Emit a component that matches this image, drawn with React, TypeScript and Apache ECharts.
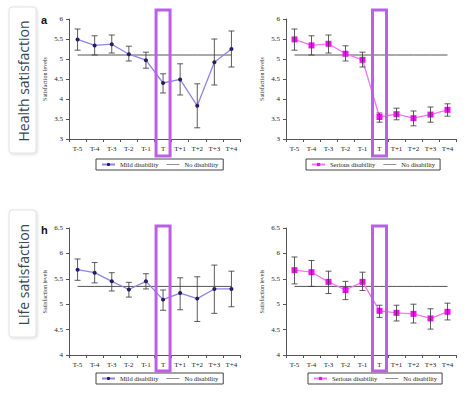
import React, { useEffect, useRef } from "react";
import * as echarts from "echarts";

const categories = ["T-5", "T-4", "T-3", "T-2", "T-1", "T", "T+1", "T+2", "T+3", "T+4"];

const healthMild = [5.49, 5.34, 5.37, 5.12, 4.97, 4.4, 4.49, 3.83, 4.92, 5.25];
const healthMildLow = [5.22, 5.1, 5.15, 4.95, 4.77, 4.15, 4.1, 3.28, 4.35, 4.8];
const healthMildHigh = [5.75, 5.58, 5.6, 5.32, 5.17, 4.63, 4.88, 4.38, 5.5, 5.7];

const healthSerious = [5.49, 5.34, 5.38, 5.13, 4.98, 3.55, 3.62, 3.52, 3.61, 3.73];
const healthSeriousLow = [5.22, 5.1, 5.15, 4.95, 4.8, 3.42, 3.48, 3.33, 3.42, 3.57];
const healthSeriousHigh = [5.75, 5.58, 5.6, 5.33, 5.17, 3.65, 3.77, 3.7, 3.8, 3.88];

const lifeMild = [5.68, 5.62, 5.45, 5.29, 5.45, 5.09, 5.22, 5.11, 5.3, 5.3];
const lifeMildLow = [5.47, 5.42, 5.26, 5.14, 5.3, 4.88, 4.89, 4.66, 4.82, 4.95];
const lifeMildHigh = [5.89, 5.82, 5.62, 5.43, 5.6, 5.28, 5.52, 5.54, 5.77, 5.65];

const lifeSerious = [5.67, 5.63, 5.44, 5.28, 5.44, 4.87, 4.83, 4.81, 4.72, 4.85];
const lifeSeriousLow = [5.4, 5.35, 5.21, 5.09, 5.27, 4.74, 4.67, 4.63, 4.51, 4.69];
const lifeSeriousHigh = [5.93, 5.86, 5.65, 5.45, 5.63, 4.98, 4.98, 5.0, 4.91, 5.02];

const healthNoDisability = 5.1;
const lifeNoDisability = 5.35;

const SERIF = "Liberation Serif";

const panels = [
  { mean: healthMild, low: healthMildLow, high: healthMildHigh, ref: healthNoDisability, name: "Mild disability", kind: "mild", min: 3, max: 6, grid: { left: 69, top: 19, width: 171, height: 120 }, legend: { left: 96, top: 159 } },
  { mean: healthSerious, low: healthSeriousLow, high: healthSeriousHigh, ref: healthNoDisability, name: "Serious disability", kind: "serious", min: 3, max: 6, grid: { left: 286, top: 19, width: 170, height: 120 }, legend: { left: 306, top: 159 } },
  { mean: lifeMild, low: lifeMildLow, high: lifeMildHigh, ref: lifeNoDisability, name: "Mild disability", kind: "mild", min: 4, max: 6.5, grid: { left: 69, top: 228, width: 171, height: 127 }, legend: { left: 96, top: 373 } },
  { mean: lifeSerious, low: lifeSeriousLow, high: lifeSeriousHigh, ref: lifeNoDisability, name: "Serious disability", kind: "serious", min: 4, max: 6.5, grid: { left: 286, top: 228, width: 170, height: 127 }, legend: { left: 308, top: 373 } },
];

export default function App() {
  const ref = useRef<HTMLDivElement>(null);
  useEffect(() => {
    if (!ref.current) return;
    const chart = echarts.init(ref.current, null, { renderer: "svg" });

    const grids: any[] = [];
    const xAxes: any[] = [];
    const yAxes: any[] = [];
    const series: any[] = [];
    const legends: any[] = [];

    panels.forEach((p, i) => {
      grids.push({ ...p.grid });
      xAxes.push({
        type: "category",
        gridIndex: i,
        data: categories,
        axisLine: { lineStyle: { color: "#555", width: 1 } },
        axisTick: { show: true, length: 3, lineStyle: { color: "#555" } },
        axisLabel: { fontFamily: SERIF, fontSize: 7, color: "#222", margin: 6, interval: 0 },
      });
      yAxes.push({
        type: "value",
        gridIndex: i,
        min: p.min,
        max: p.max,
        interval: 0.5,
        splitLine: { show: false },
        axisLine: { show: true, lineStyle: { color: "#555", width: 1 } },
        axisTick: { show: true, length: 3, lineStyle: { color: "#555" } },
        axisLabel: { fontFamily: SERIF, fontSize: 7, color: "#222", margin: 6 },
        name: "Satisfaction levels",
        nameLocation: "middle",
        nameRotate: 90,
        nameGap: 21,
        nameTextStyle: { fontFamily: SERIF, fontSize: 6, color: "#333" },
      });
      const mild = p.kind === "mild";
      series.push({
        type: "line",
        name: p.name,
        xAxisIndex: i,
        yAxisIndex: i,
        data: p.mean,
        symbol: mild ? "circle" : "rect",
        symbolSize: mild ? 4 : 6,
        lineStyle: { color: mild ? "#8d84e6" : "#f576f5", width: 1.3 },
        itemStyle: { color: mild ? "#1b1670" : "#ee11ee" },
        z: 3,
      });
      series.push({
        type: "line",
        name: "No disability",
        xAxisIndex: i,
        yAxisIndex: i,
        data: categories.map(() => p.ref),
        symbol: "none",
        lineStyle: { color: "#555", width: 1 },
        itemStyle: { color: "#555" },
        z: 2,
      });
      series.push({
        type: "custom",
        name: "err" + i,
        xAxisIndex: i,
        yAxisIndex: i,
        data: p.low.map((l, k) => [k, l, p.high[k]]),
        encode: { x: 0, y: [1, 2] },
        z: 4,
        renderItem: (params: any, api: any) => {
          const x = api.value(0);
          const lo = api.coord([x, api.value(1)]);
          const hi = api.coord([x, api.value(2)]);
          const w = 3;
          const style = { stroke: "#333", lineWidth: 0.8 };
          return {
            type: "group",
            children: [
              { type: "line", shape: { x1: lo[0], y1: lo[1], x2: hi[0], y2: hi[1] }, style },
              { type: "line", shape: { x1: lo[0] - w, y1: lo[1], x2: lo[0] + w, y2: lo[1] }, style },
              { type: "line", shape: { x1: hi[0] - w, y1: hi[1], x2: hi[0] + w, y2: hi[1] }, style },
            ],
          };
        },
      });
      legends.push({
        left: p.legend.left,
        top: p.legend.top,
        width: 170,
        data: [p.name, { name: "No disability", icon: "path://M0,0 L40,0 L40,2 L0,2 Z" }],
        orient: "horizontal",
        borderColor: "#444",
        borderWidth: 1,
        padding: [2, 5],
        itemGap: 8,
        itemWidth: 13,
        itemHeight: 4,
        selectedMode: false,
        textStyle: { fontFamily: SERIF, fontSize: 6.5, color: "#222" },
      });
    });

    chart.setOption({
      animation: false,
      backgroundColor: "#ffffff",
      grid: grids,
      xAxis: xAxes,
      yAxis: yAxes,
      legend: legends,
      series,
    });

    const graphics: any[] = [];
    const sideBoxes = [
      { text: "Health satisfaction", x: 9, y: 7, w: 27, h: 146 },
      { text: "Life satisfaction", x: 9, y: 210, w: 27, h: 127 },
    ];
    sideBoxes.forEach((b) => {
      graphics.push({
        type: "rect",
        shape: { x: b.x, y: b.y, width: b.w, height: b.h, r: 3 },
        style: { fill: "#fff", stroke: "#e2e2e2", lineWidth: 1, shadowBlur: 3, shadowColor: "rgba(0,0,0,0.15)", shadowOffsetX: 1, shadowOffsetY: 1 },
      });
      graphics.push({
        type: "text",
        x: b.x + b.w / 2 + 1,
        y: b.y + b.h / 2 + 1,
        rotation: Math.PI / 2,
        style: { text: b.text, fontFamily: "Open Sans", fontSize: 14, fill: "#34474f", align: "center", verticalAlign: "middle" },
      });
    });
    graphics.push({ type: "text", x: 41, y: 14, style: { text: "a", fontFamily: "Liberation Sans", fontWeight: "bold", fontSize: 11, fill: "#111" } });
    graphics.push({ type: "text", x: 41, y: 224, style: { text: "h", fontFamily: "Liberation Sans", fontWeight: "bold", fontSize: 11, fill: "#111" } });

    const rows = [
      [10, 156],
      [10, 156],
      [226, 371],
      [226, 371],
    ];
    panels.forEach((p, i) => {
      const cx = chart.convertToPixel({ xAxisIndex: i } as any, "T") as any as number;
      const [top, bottom] = rows[i];
      graphics.push({
        type: "rect",
        shape: { x: cx - 7, y: top, width: 14, height: bottom - top },
        style: { fill: "none", stroke: "#bb5fe8", lineWidth: 3 },
        z: 10,
      });
    });
    chart.setOption({ graphic: graphics });

    return () => chart.dispose();
  }, []);
  return <div ref={ref} style={{ position: "absolute", left: 0, top: 0, width: 474, height: 395 }} />;
}
